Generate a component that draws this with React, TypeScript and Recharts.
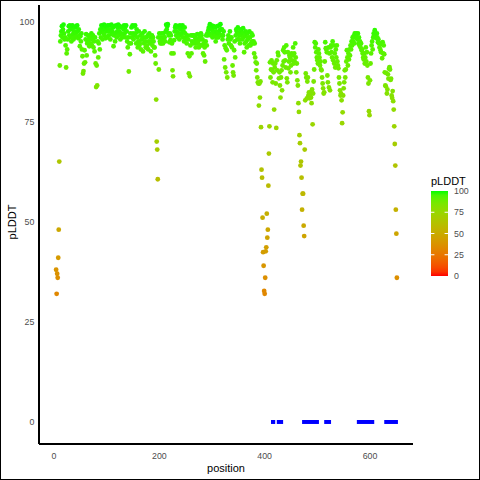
import { ScatterChart, Scatter, XAxis, YAxis, ReferenceLine } from 'recharts'

// pLDDT per residue, in runs of consecutive positions (run start, values)
const seg004 = [
  38, 32, 37, 36, 41, 48, 65, 89, 95, 96.5,
  97.5, 98.8, 96, 98, 99.2, 97, 95.5, 96, 94, 88.5,
  92, 93, 95.5, 97.5, 98.8, 96.5, 99, 98, 96, 95,
  98.3, 99, 96.8, 95.5, 97.5, 96, 98.5, 97, 98.8, 96.2,
  99, 97.5, 95.8, 98, 96.5, 93.8, 96.3, 95, 97, 93,
]
const seg054 = [
  91.3, 87, 87.6, 89.5, 92.8, 89.8, 95.5, 96.8, 91.5, 94.5,
  95, 96.5, 95.5, 93.8, 96, 94.5, 95.8, 97, 94, 95.5,
  96.5, 93.5, 95, 92.5, 96, 89.5, 83.6, 89, 84, 95,
  91, 94.5, 97, 93, 98, 96, 99, 97.5, 95.5, 98.5,
  97, 99.2, 96.5, 98, 95.8, 98.8, 97.5, 96, 99, 98,
]
const seg104 = [
  96.5, 99, 97.5, 95.5, 98, 99.2, 96.8, 97.5, 98.5, 93.8,
  96.5, 98.8, 95, 97, 99, 96, 97.5, 98.5, 99.2, 96.5,
  97.5, 98.8, 95.5, 97, 98.5, 96.8, 96, 96.3, 98, 99,
  97, 98.5, 96, 99, 97.5, 95, 93.5, 96, 87.5, 94.5,
  91.8, 97, 94.5, 98.5, 96, 99, 97, 95.5, 98.8, 96.5,
]
const seg154 = [
  99, 97, 94.5, 98, 96, 93.5, 95, 97.5, 94, 94.5,
  96.5, 93, 95.5, 95.5, 97, 92.5, 96, 94.5, 97.5, 95,
  93.5, 96, 94, 93.3, 96.5, 93, 95, 97, 94.5, 96,
  92.5, 95, 96.5, 94, 96, 95, 93.5, 93.5, 91.5, 89.5,
  80.5, 70, 68, 60.6, 96, 88, 97, 95, 94.5, 96,
]
const seg204 = [
  94.5, 97, 95.5, 94.5, 97, 96, 96, 95, 97.5, 99.2,
  98, 98.8, 99.3, 97, 96.5, 94.8, 97, 95.3, 96.5, 92,
  94.5, 87.8, 86.3, 92, 95.3, 97.5, 98.5, 99, 96.5, 97.5,
  98.8, 96, 98.5, 97, 95.5, 99, 98, 96.5, 97, 98.5,
  99, 96, 97.5, 95, 98.5, 97, 95.5, 96, 94.5, 96.5,
]
const seg254 = [
  92, 95.5, 87, 91.3, 86.3, 94, 96.5, 92, 95, 96.5,
  96.5, 94.5, 96.5, 95, 96, 93.5, 95.5, 94.5, 96.8, 95,
  94.5, 93.5, 96, 94, 95.5, 97, 96.5, 94, 95.5, 92,
  94.5, 91.5, 93.5, 90, 95, 96.5, 94, 97, 96.5, 97.8,
  98.5, 97, 99.3, 98.5, 96.5, 99, 98, 96, 97.5, 98.8,
]
const seg304 = [
  97, 96.3, 98.5, 95, 97.5, 96, 98.8, 97, 96, 97,
  99, 97.8, 99.3, 98, 96.5, 98, 95.5, 96.5, 97.5, 90.5,
  94, 88.5, 93.3, 87.3, 92.8, 86, 95.5, 96.5, 94.5, 96,
  97.5, 95.5, 94, 96, 93.5, 89, 87.3, 86.5, 92.8, 95,
  91, 96.5, 98, 97.5, 95.5, 98.5, 97, 95.5, 96.5, 94.5,
]
const seg354 = [
  98, 96.5, 97.5, 95.5, 97, 98.3, 96, 92.3, 94.5, 96.5,
  97.5, 95, 93.5, 97, 95.5, 96, 94, 97.5, 96, 94,
  94.5, 97, 95, 96.5, 94.5, 95, 92, 94.5, 91, 89.8,
  87.8, 89.5, 86, 84.8, 84.5, 79, 84.5, 81, 85, 73.6,
  63, 61, 51, 42.4, 39, 32.7, 32, 36, 42.6, 43.6,
]
const seg404 = [
  52, 46, 48, 59, 67, 73.8, 89.8, 86, 88, 90.3,
  87.8, 84.8, 89.5, 87.3, 78, 88.5, 89.5, 84.5, 73.4, 90.3,
  87.8, 92.2, 91.5, 85.8, 87.3, 84, 81, 86, 87.8, 82.8,
  89, 92.8, 90, 93.5, 92.3, 90.3, 88.5, 94, 85.8, 84.8,
  92.3, 88.3, 90, 91.5, 91, 87.3, 89, 92, 90.3, 91.5,
]
const seg454 = [
  93.5, 89.5, 92, 90, 94.5, 91, 87.3, 89.5, 85.3, 84,
  79.6, 77.4, 71.6, 69.6, 64, 65, 61, 53, 57, 57,
  49, 46.4, 68, 80.3, 87, 86, 80.8, 85, 86, 81.5,
  82.3, 80.8, 81.5, 82.3, 81, 79.6, 83, 74.3, 82, 85,
  88, 94.8, 93.5, 94.5, 92.3, 91, 90.3, 89.5, 93, 92,
]
const seg504 = [
  91, 89, 90, 88, 87.8, 86, 84.5, 83.3, 82, 82.3,
  90, 94.8, 93.3, 93, 92.3, 86.5, 84.8, 93.5, 83.5, 92,
  82.8, 93.5, 94, 92.3, 91, 95, 90.3, 94, 89.5, 92,
  88.5, 93, 91, 94, 90, 89, 88.3, 86, 84.5, 82.8,
  81.5, 82, 80.3, 74.6, 77.3, 81.5, 83.3, 84.8, 87.8, 86,
]
const seg554 = [
  88, 90, 92.8, 91, 89, 92, 90.5, 93, 91.5, 94,
  93, 95, 94, 96, 95, 96.3, 94.5, 97, 96, 96.5,
  97, 96, 95.5, 97, 94.5, 96, 94, 95, 93.5, 94.5,
  92.8, 93, 92, 91, 90.5, 92, 89.5, 91, 93.5, 90,
  92.3, 89, 86, 84.5, 77.6, 76.6, 85.3, 89.5, 92, 94,
]
const seg604 = [
  95, 93, 96, 97, 96.5, 97.8, 97, 96, 95.8, 97,
  96, 94.8, 95.5, 94.5, 93.5, 94.5, 92.8, 92.3, 94.4, 90.8,
  94.8, 92, 94, 91.8, 87.3, 84, 83.8, 87.1, 82, 83,
  86.8, 85.7, 88.2, 88.6, 88, 85.4, 85.7, 81.5, 80.9, 82.6,
  80.1, 78, 73.8, 69.4, 64, 53, 47, 36,
]

const runs: [number, number[]][] = [
  [4, seg004], [54, seg054], [104, seg104], [154, seg154], [204, seg204],
  [254, seg254], [304, seg304], [354, seg354], [404, seg404], [454, seg454],
  [504, seg504], [554, seg554], [604, seg604],
]

// domain annotations drawn at y = 0
const domainStart = [412, 423, 471, 513, 575, 627]
const domainEnd = [420, 435, 503, 526, 608, 653]

const xTicks = [0, 200, 400, 600]
const yTicks = [0, 25, 50, 75, 100]
const legendTicks = [0, 25, 50, 75, 100]

const points = runs.flatMap(([start, vals]) => vals.map((v, i) => ({ x: start + i, y: v })))

// ggplot-style red -> green gradient, interpolated in CIELAB
const toLin = (c: number) => {
  c /= 255
  return c <= 0.04045 ? c / 12.92 : Math.pow((c + 0.055) / 1.055, 2.4)
}
const fromLin = (c: number) => {
  const v = c <= 0.0031308 ? 12.92 * c : 1.055 * Math.pow(c, 1 / 2.4) - 0.055
  return Math.round(Math.min(1, Math.max(0, v)) * 255)
}
const WX = 0.95047, WZ = 1.08883
const f = (t: number) => (t > 0.008856 ? Math.cbrt(t) : 7.787 * t + 16 / 116)
const finv = (t: number) => (t > 0.206893 ? t * t * t : (t - 16 / 116) / 7.787)

function rgbToLab([r, g, b]: number[]) {
  const R = toLin(r), G = toLin(g), B = toLin(b)
  const X = (0.4124 * R + 0.3576 * G + 0.1805 * B) / WX
  const Y = 0.2126 * R + 0.7152 * G + 0.0722 * B
  const Z = (0.0193 * R + 0.1192 * G + 0.9505 * B) / WZ
  return [116 * f(Y) - 16, 500 * (f(X) - f(Y)), 200 * (f(Y) - f(Z))]
}

function labToHex([L, a, b]: number[]) {
  const fy = (L + 16) / 116
  const X = finv(fy + a / 500) * WX
  const Y = finv(fy)
  const Z = finv(fy - b / 200) * WZ
  const r = fromLin(3.2406 * X - 1.5372 * Y - 0.4986 * Z)
  const g = fromLin(-0.9689 * X + 1.8758 * Y + 0.0415 * Z)
  const bl = fromLin(0.0557 * X - 0.204 * Y + 1.057 * Z)
  return '#' + [r, g, bl].map((c) => c.toString(16).padStart(2, '0')).join('')
}

const LOW = rgbToLab([255, 0, 0])
const HIGH = rgbToLab([0, 255, 0])
const colorFor = (v: number) => {
  const t = Math.min(1, Math.max(0, v / 100))
  return labToHex(LOW.map((l, i) => l + (HIGH[i] - l) * t))
}

const FONT = '"Liberation Sans", Arial, sans-serif'
const TICK = { fontSize: 8.8, fill: '#4D4D4D', fontFamily: FONT }

const Dot = (props: any) => {
  const { cx, cy, payload } = props
  if (cx == null || cy == null) return null
  return <circle cx={cx} cy={cy} r={2.4} fill={colorFor(payload.y)} />
}

// colourbar geometry
const BAR_X = 431
const BAR_W = 17
const BAR_TOP = 191
const BAR_H = 85
const barY = (v: number) => BAR_TOP + BAR_H * (1 - v / 100)

export default function App() {
  return (
    <div style={{ position: 'fixed', left: 0, top: 0, width: 480, height: 480, background: '#fff' }}>
      <ScatterChart width={480} height={480} margin={{ top: 5, right: 67, bottom: 0, left: 0 }}>
        <XAxis
          type="number"
          dataKey="x"
          domain={[-28.5, 681.6]}
          ticks={xTicks}
          allowDataOverflow
          height={36}
          tickSize={0}
          tickMargin={8.5}
          tickLine={false}
          axisLine={{ stroke: '#000', strokeWidth: 2 }}
          tick={TICK}
        />
        <YAxis
          type="number"
          dataKey="y"
          domain={[-5.5, 104.1]}
          ticks={yTicks}
          allowDataOverflow
          width={39}
          tickSize={0}
          tickMargin={4.7}
          tickLine={false}
          axisLine={{ stroke: '#000', strokeWidth: 2 }}
          tick={TICK}
        />
        {domainStart.map((s, i) => (
          <ReferenceLine
            key={i}
            segment={[{ x: s, y: 0 }, { x: domainEnd[i], y: 0 }]}
            stroke="#0000FF"
            strokeWidth={4}
            ifOverflow="visible"
          />
        ))}
        <Scatter data={points} shape={Dot} isAnimationActive={false} />
      </ScatterChart>

      <svg width={480} height={480} style={{ position: 'absolute', left: 0, top: 0, pointerEvents: 'none' }}>
        <defs>
          <linearGradient id="plddt" x1="0" y1="1" x2="0" y2="0">
            {Array.from({ length: 21 }, (_, i) => (
              <stop key={i} offset={`${i * 5}%`} stopColor={colorFor(i * 5)} />
            ))}
          </linearGradient>
        </defs>
        <text x={226} y={472} textAnchor="middle" fontSize={11} fontFamily={FONT} fill="#000">
          position
        </text>
        <text
          x={12}
          y={222}
          transform="rotate(-90 12 222)"
          textAnchor="middle"
          dominantBaseline="central"
          fontSize={11}
          fontFamily={FONT}
          fill="#000"
        >
          pLDDT
        </text>

        {/* colourbar legend */}
        <text x={BAR_X} y={185} fontSize={11} fontFamily={FONT} fill="#000">
          pLDDT
        </text>
        <rect x={BAR_X} y={BAR_TOP} width={BAR_W} height={BAR_H} fill="url(#plddt)" />
        {legendTicks.map((t) => (
          <g key={t}>
            {t > 0 && t < 100 && (
              <>
                <line x1={BAR_X} x2={BAR_X + 3.4} y1={barY(t)} y2={barY(t)} stroke="#fff" strokeWidth={1} />
                <line x1={BAR_X + BAR_W - 3.4} x2={BAR_X + BAR_W} y1={barY(t)} y2={barY(t)} stroke="#fff" strokeWidth={1} />
              </>
            )}
            <text x={BAR_X + BAR_W + 6} y={barY(t)} dominantBaseline="central" {...TICK}>
              {t}
            </text>
          </g>
        ))}
      </svg>
      <div style={{ position: 'absolute', inset: 0, border: '1px solid #000', pointerEvents: 'none' }} />
    </div>
  )
}
